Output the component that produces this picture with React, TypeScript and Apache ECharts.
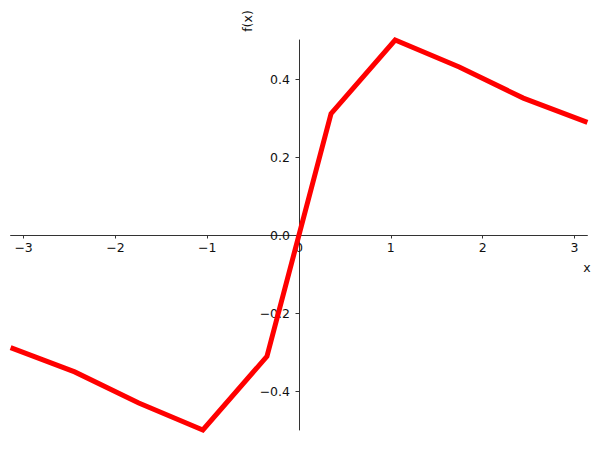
import React, { useEffect, useRef } from "react";
import * as echarts from "echarts";

const xValues = [-3.14159, -2.44346, -1.74533, -1.0472, -0.34907, 0.34907, 1.0472, 1.74533, 2.44346, 3.14159];
const yValues = [-0.289, -0.351, -0.431, -0.5, -0.311, 0.311, 0.5, 0.431, 0.351, 0.289];
const xTicks = [-3, -2, -1, 0, 1, 2, 3];
const yTicks = [-0.4, -0.2, 0, 0.2, 0.4];
const xName = "x";
const yName = "f(x)";

const FONT = "DejaVu Sans";
const AXIS_COLOR = "#333";
const TEXT_COLOR = "#111";
const GRID = { left: 10.6, right: 12.6, top: 40, bottom: 30 };
const W = 600;
const H = 460;

export default function App() {
  const ref = useRef<HTMLDivElement>(null);
  useEffect(() => {
    if (!ref.current) return;
    const chart = echarts.init(ref.current, null, { renderer: "svg" });
    chart.setOption({
      animation: false,
      grid: { ...GRID, containLabel: false, outerBoundsMode: "none" },
      xAxis: {
        type: "value",
        min: -Math.PI,
        max: Math.PI,
        axisLine: { onZero: false, lineStyle: { color: AXIS_COLOR, width: 1 } },
        axisTick: { show: true, length: 3.5, customValues: xTicks, lineStyle: { color: AXIS_COLOR } },
        axisLabel: {
          customValues: xTicks,
          margin: 6,
          color: TEXT_COLOR,
          fontFamily: FONT,
          fontSize: 12.5,
          formatter: (v: number) => (v < 0 ? "\u2212" + Math.abs(v) : String(v)),
        },
        splitLine: { show: false },
      },
      yAxis: {
        type: "value",
        min: -0.5,
        max: 0.5,
        axisLine: { show: true, onZero: false, lineStyle: { color: AXIS_COLOR, width: 1 } },
        axisTick: { show: true, length: 3.5, customValues: yTicks, lineStyle: { color: AXIS_COLOR } },
        axisLabel: {
          customValues: yTicks,
          margin: 9,
          color: TEXT_COLOR,
          fontFamily: FONT,
          fontSize: 12.5,
          formatter: (v: number) => (v < 0 ? "\u2212" + Math.abs(v).toFixed(1) : v.toFixed(1)),
        },
        splitLine: { show: false },
      },
      graphic: [
        {
          type: "text",
          x: 247,
          y: 21,
          rotation: Math.PI / 2,
          style: {
            text: yName,
            fontFamily: FONT,
            fontSize: 12.5,
            fill: TEXT_COLOR,
            align: "center",
            verticalAlign: "middle",
          },
        },
        {
          type: "text",
          x: 587,
          y: 267,
          style: {
            text: xName,
            fontFamily: FONT,
            fontSize: 12.5,
            fill: TEXT_COLOR,
            align: "center",
            verticalAlign: "middle",
          },
        },
      ],
      series: [
        {
          type: "line",
          data: xValues.map((x, i) => [x, yValues[i]]),
          showSymbol: false,
          symbol: "none",
          clip: false,
          lineStyle: { color: "#ff0000", width: 5, join: "miter", cap: "butt" },
          z: 5,
        },
      ],
    });
    // move both axes so that they cross at the data origin
    const origin = chart.convertToPixel({ gridIndex: 0 }, [0, 0]) as number[];
    if (origin) {
      const gridBottom = H - GRID.bottom;
      chart.setOption({
        xAxis: { offset: -(gridBottom - origin[1]) },
        yAxis: { offset: -(origin[0] - GRID.left) },
      });
    }
    return () => chart.dispose();
  }, []);
  return <div ref={ref} style={{ width: W, height: H, position: "absolute", left: 0, top: 0 }} />;
}
